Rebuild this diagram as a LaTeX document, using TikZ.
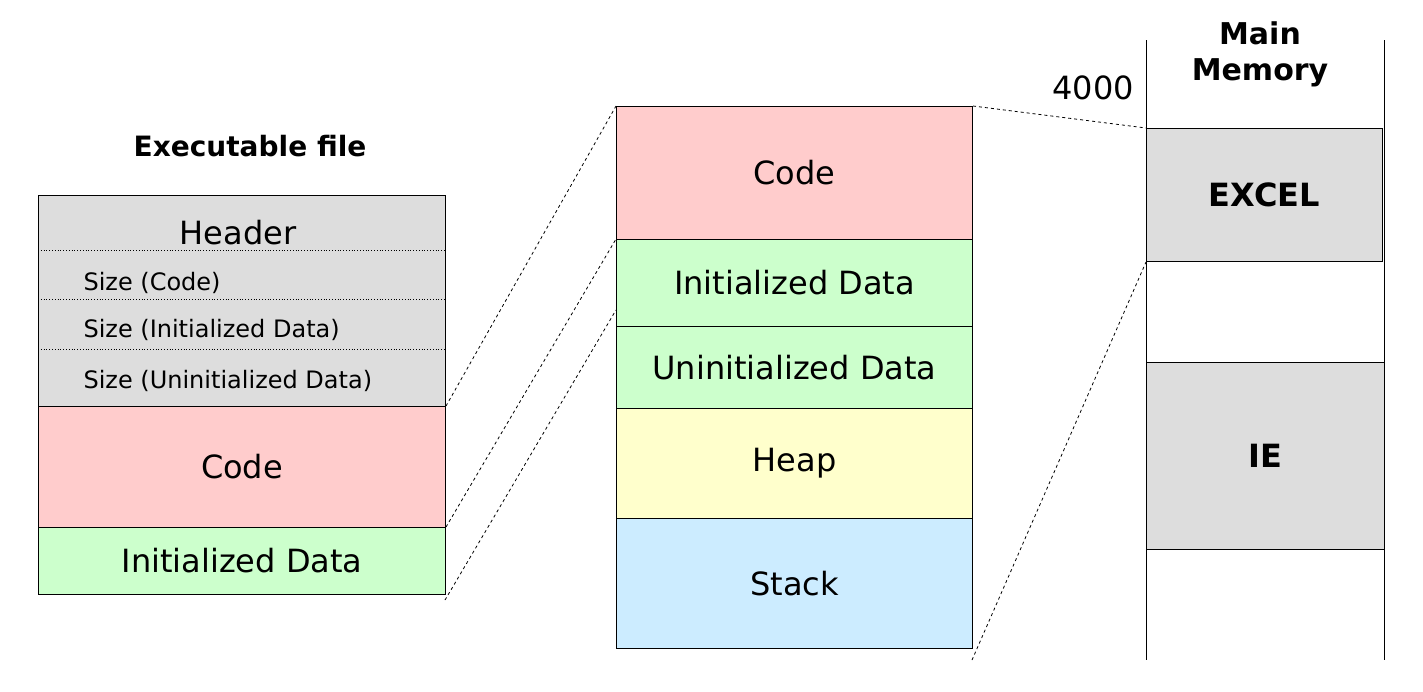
\documentclass[tikz,border=0pt]{standalone}
\usepackage{fontspec}
\setmainfont{DejaVu Sans}
\begin{document}
\begin{tikzpicture}[x=1pt,y=-1pt,
 blk/.style={draw=black,line width=1pt,inner sep=0pt,anchor=north west},
 big/.style={font=\fontsize{32}{36}\selectfont},
 sm/.style={font=\fontsize{24}{28}\selectfont},
 dl/.style={dashed,line width=0.8pt}]
\useasboundingbox (0,0) rectangle (1423,691);
\definecolor{cred}{RGB}{255,204,204}
\definecolor{cgrn}{RGB}{204,255,204}
\definecolor{cgry}{RGB}{221,221,221}
\definecolor{cyel}{RGB}{255,255,204}
\definecolor{cblu}{RGB}{204,236,255}
% left
\node[blk,fill=cgry,minimum width=407pt,minimum height=211pt] (hdr) at (38,195) {};
\draw[dotted,line width=0.8pt] (38,250) -- (445,250) (38,299) -- (445,299) (38,349) -- (445,349);
\node[big] (ht) at (238,233) {Header};
\node[sm,anchor=west] (s1) at (80,283) {Size (Code)};
\node[sm,anchor=west] (s2) at (80,330) {Size (Initialized Data)};
\node[sm,anchor=west] (s3) at (80,381) {Size (Uninitialized Data)};
\node[blk,fill=cred,minimum width=407pt,minimum height=121pt,big] (lc) at (38,406) {};
\node[big] at (lc.center) {Code};
\node[blk,fill=cgrn,minimum width=407pt,minimum height=67pt] (li) at (38,527) {};
\node[big] at (li.center) {Initialized Data};
\node[font=\bfseries\fontsize{28}{32}\selectfont] (ef) at (250,146) {Executable file};
% middle
\node[blk,fill=cred,minimum width=356pt,minimum height=133pt] (mc) at (616,106) {};
\node[big] at (mc.center) {Code};
\node[blk,fill=cgrn,minimum width=356pt,minimum height=87pt] (mi) at (616,239) {};
\node[big] at (mi.center) {Initialized Data};
\node[blk,fill=cgrn,minimum width=356pt,minimum height=82pt] (mu) at (616,326) {};
\node[big] at (mu.center) {Uninitialized Data};
\node[blk,fill=cyel,minimum width=356pt,minimum height=110pt] (mh) at (616,408) {};
\node[big] at (mh.center) {Heap};
\node[blk,fill=cblu,minimum width=356pt,minimum height=130pt] (ms) at (616,518) {};
\node[big] at (ms.center) {Stack};
% right
\coordinate (rl1) at (1146,40); \coordinate (rl2) at (1146,660);
\coordinate (rr1) at (1384,40); \coordinate (rr2) at (1384,660);
\draw[line width=1pt] (rl1) -- (rl2) (rr1) -- (rr2);
\node[blk,fill=cgry,minimum width=236pt,minimum height=133pt] (ex) at (1146,128) {};
\node[font=\bfseries\fontsize{32}{36}\selectfont] at (ex.center) {EXCEL};
\node[blk,fill=cgry,minimum width=238pt,minimum height=187pt] (ie) at (1146,362) {};
\node[font=\bfseries\fontsize{32}{36}\selectfont] at (ie.center) {IE};
\node[big] (n4) at (1093,88) {4000};
\node[font=\bfseries\fontsize{30}{36}\selectfont,align=center] (mm) at (1260,54) {Main\\Memory};
% dashed
\coordinate (l3) at (445,600);
\coordinate (r2) at (972,660);
\coordinate (m3) at (616,310);
\draw[dl] (lc.north east) -- (mc.north west);
\draw[dl] (li.north east) -- (mi.north west);
\draw[dl] (l3) -- (m3);
\draw[dl] (mc.north east) -- (ex.north west);
\draw[dl] (r2) -- (ex.south west);
\end{tikzpicture}
\end{document}
